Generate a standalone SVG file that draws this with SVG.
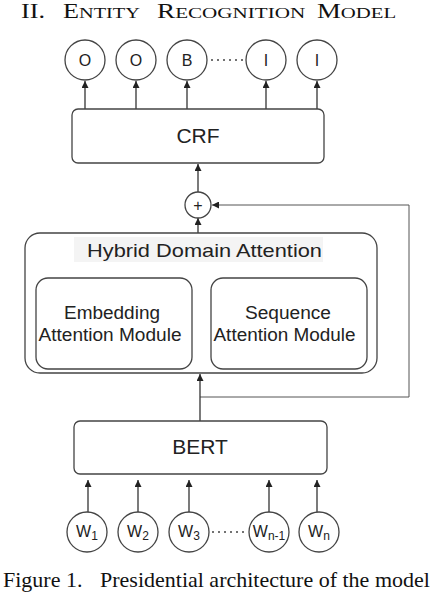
<svg xmlns="http://www.w3.org/2000/svg" width="432" height="594" viewBox="0 0 432 594">
<defs>
<marker id="ah" viewBox="0 0 10 10" refX="10" refY="5" markerWidth="7" markerHeight="7" markerUnits="userSpaceOnUse" orient="auto">
<path d="M0,0 L10,5 L0,10 z" fill="#222"/>
</marker>
<style>
.box{fill:#fff;stroke:#444;stroke-width:1.3}
.nd{fill:#fff;stroke:#444;stroke-width:1.3}
.ln{fill:none;stroke:#333;stroke-width:1.3}
.fb{fill:none;stroke:#555;stroke-width:1}
.dot{fill:none;stroke:#444;stroke-width:1.3;stroke-dasharray:2 4}
.sans{font-family:"Liberation Sans",Arial,sans-serif;fill:#222}
.serif{font-family:"Liberation Serif","Times New Roman",serif;fill:#111}
.lab{font-size:16px;text-anchor:middle}
.w{font-size:16px;text-anchor:middle}
.sc{font-size:15.5px}
</style>
</defs>
<rect width="432" height="594" fill="#fff"/>

<g id="title" class="serif" font-size="20">
<text transform="translate(21,18) scale(1.31,1)">II.</text>
<text transform="translate(63,18) scale(1.31,1)">E<tspan class="sc">NTITY</tspan></text>
<text transform="translate(157,18) scale(1.36,1)">R<tspan class="sc">ECOGNITION</tspan></text>
<text transform="translate(317,18) scale(1.34,1)">M<tspan class="sc">ODEL</tspan></text>
</g>

<g id="connectors">
<line class="ln" x1="85" y1="109" x2="85" y2="81" marker-end="url(#ah)"/>
<line class="ln" x1="136" y1="109" x2="136" y2="81" marker-end="url(#ah)"/>
<line class="ln" x1="187" y1="109" x2="187" y2="81" marker-end="url(#ah)"/>
<line class="ln" x1="266" y1="109" x2="266" y2="81" marker-end="url(#ah)"/>
<line class="ln" x1="317" y1="109" x2="317" y2="81" marker-end="url(#ah)"/>
<line class="dot" x1="211" y1="60" x2="246" y2="60"/>
<line class="ln" x1="198" y1="192" x2="198" y2="164" marker-end="url(#ah)"/>
<line class="ln" x1="198" y1="233" x2="198" y2="218" marker-end="url(#ah)"/>
<polyline class="fb" points="200,397 409,397 409,205 212,205" marker-end="url(#ah)"/>
<line class="ln" x1="200" y1="421" x2="200" y2="374" marker-end="url(#ah)"/>
<line class="ln" x1="88" y1="512" x2="88" y2="480" marker-end="url(#ah)"/>
<line class="ln" x1="138" y1="512" x2="138" y2="480" marker-end="url(#ah)"/>
<line class="ln" x1="189" y1="512" x2="189" y2="480" marker-end="url(#ah)"/>
<line class="ln" x1="269" y1="512" x2="269" y2="480" marker-end="url(#ah)"/>
<line class="ln" x1="317" y1="512" x2="317" y2="480" marker-end="url(#ah)"/>
<line class="dot" x1="212" y1="532" x2="248" y2="532"/>
</g>

<g id="out1"><circle class="nd" cx="85" cy="60" r="20"/><text class="sans lab" x="85" y="66">O</text></g>
<g id="out2"><circle class="nd" cx="136" cy="60" r="20"/><text class="sans lab" x="136" y="66">O</text></g>
<g id="out3"><circle class="nd" cx="187" cy="60" r="20"/><text class="sans lab" x="187" y="66">B</text></g>
<g id="out4"><circle class="nd" cx="266" cy="60" r="20"/><text class="sans lab" x="266" y="66">I</text></g>
<g id="out5"><circle class="nd" cx="317" cy="60" r="20"/><text class="sans lab" x="317" y="66">I</text></g>

<g id="crf"><rect class="box" x="72" y="109" width="252" height="54" rx="6"/><text class="sans" x="198" y="143" font-size="21" text-anchor="middle">CRF</text></g>

<g id="plus"><circle class="nd" cx="198" cy="205" r="13"/><text class="sans" x="198" y="210.5" font-size="16" text-anchor="middle">+</text></g>

<g id="hda">
<rect class="box" x="25" y="233" width="352" height="140" rx="15"/>
<rect x="74" y="237" width="249" height="25" fill="#f4f4f4"/>
<text class="sans" x="87" y="257" font-size="19" textLength="235" lengthAdjust="spacingAndGlyphs">Hybrid Domain Attention</text>
</g>

<g id="emb">
<rect class="box" x="36" y="278" width="156" height="91" rx="12"/>
<text class="sans" x="64" y="319" font-size="18" textLength="96" lengthAdjust="spacingAndGlyphs">Embedding</text>
<text class="sans" x="38.5" y="341" font-size="18" textLength="143" lengthAdjust="spacingAndGlyphs">Attention Module</text>
</g>

<g id="seq">
<rect class="box" x="211" y="278" width="156" height="91" rx="12"/>
<text class="sans" x="245" y="319" font-size="18" textLength="86" lengthAdjust="spacingAndGlyphs">Sequence</text>
<text class="sans" x="213.5" y="341" font-size="18" textLength="142" lengthAdjust="spacingAndGlyphs">Attention Module</text>
</g>

<g id="bert"><rect class="box" x="74" y="421" width="253" height="53" rx="6"/><text class="sans" x="200" y="454" font-size="21" text-anchor="middle">BERT</text></g>

<g id="w1"><circle class="nd" cx="87" cy="532" r="20"/><text class="sans w" x="87" y="537">W<tspan font-size="12" dy="3">1</tspan></text></g>
<g id="w2"><circle class="nd" cx="138" cy="532" r="20"/><text class="sans w" x="138" y="537">W<tspan font-size="12" dy="3">2</tspan></text></g>
<g id="w3"><circle class="nd" cx="189" cy="532" r="20"/><text class="sans w" x="189" y="537">W<tspan font-size="12" dy="3">3</tspan></text></g>
<g id="wn1"><circle class="nd" cx="269" cy="532" r="20"/><text class="sans w" x="269" y="537">W<tspan font-size="12" dy="3">n-1</tspan></text></g>
<g id="wn"><circle class="nd" cx="319" cy="532" r="20"/><text class="sans w" x="319" y="537">W<tspan font-size="12" dy="3">n</tspan></text></g>

<g id="caption" class="serif">
<text x="3" y="587" font-size="22">Figure 1.</text>
<text x="100" y="587" font-size="22">Presidential architecture of the model</text>
</g>
</svg>
